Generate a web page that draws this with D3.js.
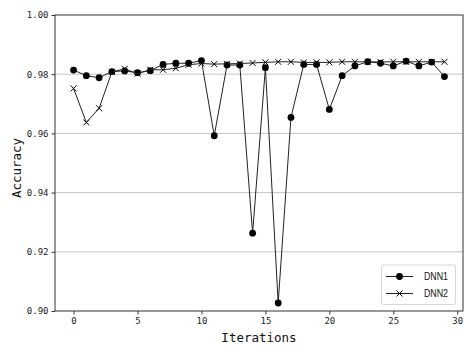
<!DOCTYPE html>
<html><head><meta charset="utf-8">
<script src="https://cdn.jsdelivr.net/npm/d3@7/dist/d3.min.js"></script>
<style>body{margin:0;background:#fff}svg{display:block}</style>
</head><body>
<svg id="chart" width="474" height="355"></svg>
<script>
const iterations = d3.range(0, 30);
const dnn1 = [0.9814,0.9795,0.9788,0.9809,0.9811,0.9805,0.9812,0.9833,0.9837,0.9837,
              0.9846,0.9592,0.9831,0.9831,0.9263,0.9822,0.9027,0.9654,0.9833,0.9833,
              0.9681,0.9795,0.9828,0.9842,0.9837,0.9828,0.9844,0.9828,0.9841,0.9792];
const dnn2 = [0.9752,0.9637,0.9685,0.9808,0.9818,0.9802,0.9815,0.9815,0.9820,0.9832,
              0.9836,0.9834,0.9835,0.9836,0.9838,0.9840,0.9842,0.9842,0.9840,0.9840,
              0.9840,0.9842,0.9842,0.9842,0.9841,0.9842,0.9842,0.9842,0.9842,0.9842];
const xTicks = [0,5,10,15,20,25,30];
const yTicks = [0.90,0.92,0.94,0.96,0.98,1.00];
const seriesNames = ["DNN1","DNN2"];

const svg = d3.select("#chart");
const L = 55, R = 463, T = 15, B = 311;
const x = d3.scaleLinear().domain([-1.45, 30.45]).range([L, R]);
const y = d3.scaleLinear().domain([0.90, 1.00]).range([B, T]);
const monoFont = "'DejaVu Sans Mono', 'Liberation Mono', monospace";

// grid
svg.append("g").selectAll("line").data(yTicks.filter(v => v > 0.90 && v < 1.0)).join("line")
  .attr("x1", L).attr("x2", R).attr("y1", d => y(d)).attr("y2", d => y(d))
  .attr("stroke", "#c4c4c4").attr("stroke-width", 1);

// axes
const xAxis = svg.append("g").attr("transform", `translate(0,${B})`)
  .call(d3.axisBottom(x).tickValues(xTicks).tickFormat(d3.format("d")).tickSize(3.5).tickPadding(3));
const yAxis = svg.append("g").attr("transform", `translate(${L},0)`)
  .call(d3.axisLeft(y).tickValues(yTicks).tickFormat(d3.format(".2f")).tickSize(3.5).tickPadding(3));
[xAxis, yAxis].forEach(a => {
  a.select(".domain").remove();
  a.selectAll("line").attr("stroke", "#333");
  a.selectAll("text").attr("font-family", monoFont).attr("font-size", "9px").attr("fill", "#222");
});

// frame
svg.append("rect").attr("x", L).attr("y", T).attr("width", R - L).attr("height", B - T)
  .attr("fill", "none").attr("stroke", "#333").attr("stroke-width", 1);

// axis titles
svg.append("text").attr("x", (L + R) / 2).attr("y", 342).attr("text-anchor", "middle")
  .attr("font-family", monoFont).attr("font-size", "12.5px").attr("fill", "#111").text("Iterations");
svg.append("text").attr("transform", `translate(21,${(T + B) / 2 + 5}) rotate(-90)`)
  .attr("text-anchor", "middle")
  .attr("font-family", monoFont).attr("font-size", "12.5px").attr("fill", "#111").text("Accuracy");

// lines
const line = d3.line().x((d, i) => x(iterations[i])).y(d => y(d));
const g = svg.append("g");
g.append("path").datum(dnn1).attr("d", line).attr("fill", "none").attr("stroke", "#222").attr("stroke-width", 1);
g.selectAll("circle.d1").data(dnn1).join("circle").attr("class", "d1")
  .attr("cx", (d, i) => x(iterations[i])).attr("cy", d => y(d)).attr("r", 3.4).attr("fill", "#000");
g.append("path").datum(dnn2).attr("d", line).attr("fill", "none").attr("stroke", "#222").attr("stroke-width", 1);
const cross = s => `M${-s},${-s}L${s},${s}M${-s},${s}L${s},${-s}`;
g.selectAll("path.d2").data(dnn2).join("path").attr("class", "d2")
  .attr("transform", (d, i) => `translate(${x(iterations[i])},${y(d)})`)
  .attr("d", cross(3)).attr("stroke", "#000").attr("stroke-width", 1).attr("fill", "none");

// legend
const lg = svg.append("g");
lg.append("rect").attr("x", 381.5).attr("y", 265).attr("width", 74).attr("height", 39.5).attr("rx", 2)
  .attr("fill", "#fff").attr("fill-opacity", 0.8).attr("stroke", "#d6d6d6").attr("stroke-width", 1);
seriesNames.forEach((name, k) => {
  const yy = 276.5 + k * 17;
  lg.append("line").attr("x1", 386).attr("x2", 413).attr("y1", yy).attr("y2", yy)
    .attr("stroke", "#222").attr("stroke-width", 1);
  if (k === 0) lg.append("circle").attr("cx", 399.5).attr("cy", yy).attr("r", 3.4).attr("fill", "#000");
  else lg.append("path").attr("transform", `translate(399.5,${yy})`).attr("d", cross(3))
    .attr("stroke", "#000").attr("fill", "none");
  lg.append("text").attr("x", 424).attr("y", yy).attr("dy", "0.36em")
    .attr("font-family", "'Liberation Sans Narrow', 'Liberation Sans', Arial, sans-serif")
    .attr("font-size", "10.7px").attr("fill", "#111")
    .attr("textLength", 24).attr("lengthAdjust", "spacingAndGlyphs").text(name);
});
</script>
</body></html>
